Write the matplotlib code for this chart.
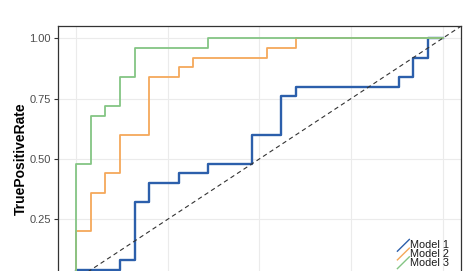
import matplotlib
matplotlib.use('Agg')
import matplotlib.pyplot as plt
from matplotlib.legend_handler import HandlerLine2D
from matplotlib.lines import Line2D

plt.rcParams['font.family'] = ['Liberation Sans', 'DejaVu Sans']

# ROC step points (false positive rate, true positive rate)
m1_fpr = [0, 0, 0.12, 0.16, 0.20, 0.28, 0.36, 0.48, 0.56, 0.60, 0.88, 0.92, 0.96, 1.0]
m1_tpr = [0, 0.04, 0.08, 0.32, 0.40, 0.44, 0.48, 0.60, 0.76, 0.80, 0.84, 0.92, 1.0, 1.0]
m2_fpr = [0, 0, 0.04, 0.08, 0.12, 0.20, 0.28, 0.32, 0.52, 0.60, 1.0]
m2_tpr = [0, 0.20, 0.36, 0.44, 0.60, 0.84, 0.88, 0.92, 0.96, 1.0, 1.0]
m3_fpr = [0, 0, 0.04, 0.08, 0.12, 0.16, 0.36, 1.0]
m3_tpr = [0, 0.48, 0.68, 0.72, 0.84, 0.96, 1.0, 1.0]
labels = ['Model 1', 'Model 2', 'Model 3']
yticks = [0.25, 0.50, 0.75, 1.00]
ytick_labels = ['0.25', '0.50', '0.75', '1.00']


class DiagHandler(HandlerLine2D):
    # diagonal legend keys like ggplot's abline glyph
    def create_artists(self, legend, orig_handle, xdescent, ydescent,
                       width, height, fontsize, trans):
        ln = Line2D([-xdescent, -xdescent + width], [-ydescent - 2, -ydescent + height + 1])
        self.update_prop(ln, orig_handle, legend)
        ln.set_drawstyle('default')
        ln.set_linewidth(1.0)
        ln.set_transform(trans)
        return [ln]


W, H = 474, 271
fig = plt.figure(figsize=(W / 100, H / 100), dpi=100)
fig.patch.set_facecolor('white')
x0, x1 = 57.7, 461.0
y_top, y_bot = 26.2, 291.7
ax = fig.add_axes([x0 / W, (H - y_bot) / H, (x1 - x0) / W, (y_bot - y_top) / H])

ax.set_xlim(-0.05, 1.05)
ax.set_ylim(-0.05, 1.05)
ax.set_xticks([0, 0.25, 0.5, 0.75, 1.0])
ax.set_yticks(yticks)
ax.set_yticklabels(ytick_labels)
ax.grid(True, color='#ebebeb', linewidth=0.8)
ax.set_axisbelow(True)

l1, = ax.step(m1_fpr, m1_tpr, where='post', color='#2c5fab', linewidth=1.7, label=labels[0])
l2, = ax.step(m2_fpr, m2_tpr, where='post', color='#f5a85a', linewidth=1.3, label=labels[1])
l3, = ax.step(m3_fpr, m3_tpr, where='post', color='#84c584', linewidth=1.3, label=labels[2])
ax.axline((0, 0), (1, 1), color='#333333', linestyle=(0, (4, 3)), linewidth=0.8)

for s in ax.spines.values():
    s.set_color('#333333')
    s.set_linewidth(0.9)
ax.tick_params(axis='both', length=3, width=0.8, color='#333333',
               labelsize=8, labelcolor='#4d4d4d', pad=2)
ax.tick_params(axis='x', labelbottom=False)

ax.set_ylabel('TruePositiveRate', fontsize=10, fontweight='bold', labelpad=1)

leg = ax.legend(handles=[l1, l2, l3], loc='upper left',
                bbox_to_anchor=(392 / W, 1 - 235 / H), bbox_transform=fig.transFigure,
                frameon=False, fontsize=7.8, borderpad=0, handlelength=1.1,
                handleheight=0.7, handletextpad=0.05, labelspacing=-0.12,
                handler_map={Line2D: DiagHandler()})
for t in leg.get_texts():
    t.set_color('#1a1a1a')

fig.savefig('out.png', dpi=100, facecolor='white')
